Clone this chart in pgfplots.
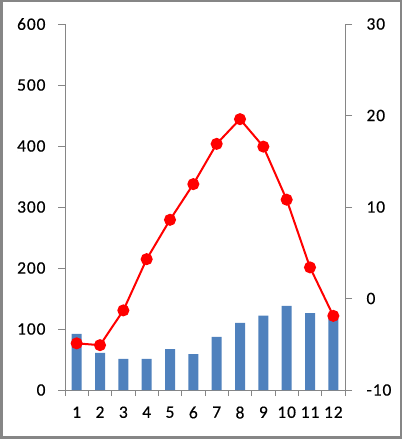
\documentclass[border=0pt]{standalone}
\usepackage{pgfplots}
\pgfplotsset{compat=1.18}
\usepackage{fontspec}
\setmainfont{Carlito}
\newfontfamily\tickfont[LetterSpace=5,FakeBold=0.3]{Carlito}
\definecolor{barblue}{HTML}{4F81BD}
\definecolor{axgray}{HTML}{868686}
\begin{document}
\begin{tikzpicture}
\useasboundingbox (0,0) rectangle (402bp,439bp);
\draw[axgray, line width=2.5bp] (1.25bp,1.25bp) rectangle (400.75bp,437.75bp);
\begin{axis}[at={(65bp,49bp)}, anchor=south west, scale only axis,
  width=280bp, height=366bp,
  xmin=0.5, xmax=12.5, ymin=0, ymax=600,
  axis x line*=bottom, axis y line*=left,
  axis line style={axgray, line width=0.8bp},
  tick style={axgray, line width=0.8bp},
  tick align=outside, major tick length=7bp, minor tick length=6bp,
  xtick={1,...,12}, major x tick style={draw=none},
  minor xtick={0.5,1.5,...,12.5},
  ytick={0,100,...,600},
  /pgf/number format/assume math mode=true,
  tick label style={font=\tickfont\fontsize{17.5bp}{20bp}\selectfont, black},
  xticklabel style={yshift=-6bp},
  yticklabel style={xshift=-9bp},
  clip=false]
\addplot[ybar, bar width=10bp, fill=barblue, draw=none] coordinates {
(1,92) (2,61) (3,51) (4,51) (5,67) (6,59) (7,87) (8,110) (9,122) (10,138) (11,126) (12,118)};
\end{axis}
\begin{axis}[at={(65bp,49bp)}, anchor=south west, scale only axis,
  width=280bp, height=366bp,
  xmin=0.5, xmax=12.5, ymin=-10, ymax=30,
  axis x line=none, axis y line*=right,
  axis line style={axgray, line width=0.8bp},
  tick style={axgray, line width=0.8bp},
  tick align=outside, major tick length=7bp,
  ytick={-10,0,...,30},
  /pgf/number format/assume math mode=true,
  tick label style={font=\tickfont\fontsize{17.5bp}{20bp}\selectfont, black},
  yticklabel style={xshift=11bp},
  clip=false]
\addplot[red, line width=2bp, mark=*, mark size=5bp, mark options={fill=red, draw=red}] coordinates {
(1,-4.9) (2,-5.1) (3,-1.3) (4,4.3) (5,8.6) (6,12.5) (7,16.9) (8,19.6) (9,16.6) (10,10.8) (11,3.4) (12,-1.9)};
\end{axis}
\end{tikzpicture}
\end{document}
